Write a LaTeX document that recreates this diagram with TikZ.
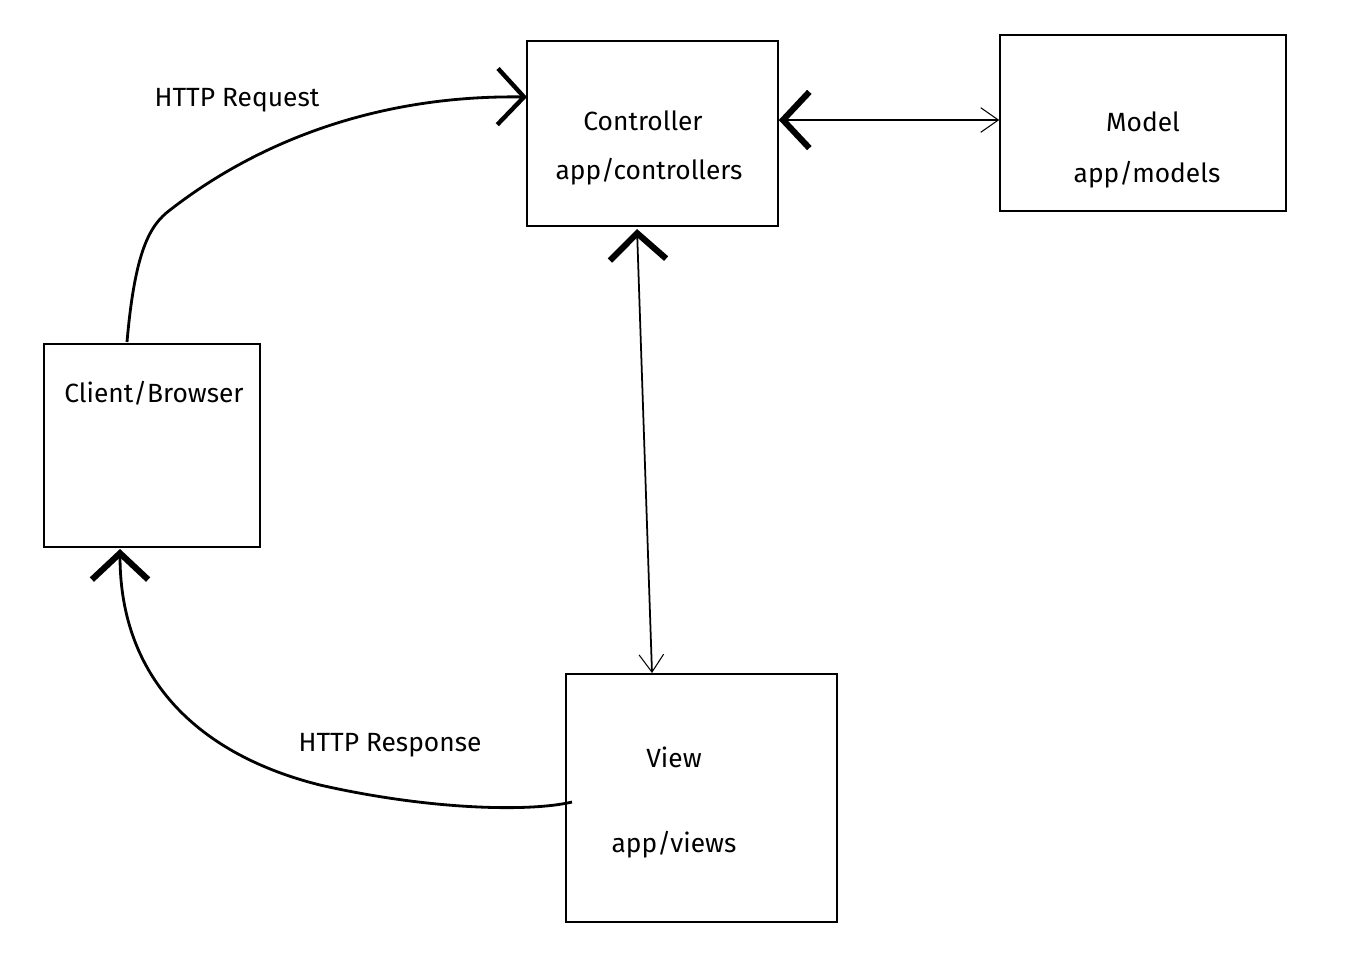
\documentclass[tikz,border=0pt]{standalone}
\usepackage{fontspec}
\setmainfont{Fira Sans}
\usetikzlibrary{arrows.meta}
\tikzset{
  bighead/.tip={Straight Barb[length=15pt,width=32pt,line width=3.5pt]},
  thinhead/.tip={Straight Barb[length=10pt,width=14pt,line width=0.6pt]},
  lbl/.style={font=\fontsize{15}{17}\selectfont},
  box/.style={draw,line width=0.9pt}}
\begin{document}
\begin{tikzpicture}[x=0.02cm,y=-0.02cm]
\useasboundingbox (0,0) rectangle (1358,961);
\node[box,minimum width=5.02cm,minimum height=3.7cm] (ctrl) at (652.5,133.5) {};
\node[box,minimum width=5.72cm,minimum height=3.52cm] (model) at (1143,123) {};
\node[box,minimum width=4.32cm,minimum height=4.06cm] (client) at (152,445.5) {};
\node[box,minimum width=5.42cm,minimum height=4.96cm] (view) at (701.5,798) {};
\node[lbl] (t1) at (643,121) {Controller};
\node[lbl] (t2) at (649,172) {app/controllers};
\node[lbl] (t3) at (1143,122) {Model};
\node[lbl] (t4) at (1147,175) {app/models};
\node[lbl] (t5) at (154,393) {Client/Browser};
\node[lbl] (t6) at (674,757) {View};
\node[lbl] (t7) at (674,845) {app/views};
\node[lbl] (req) at (237,100) {HTTP Request};
\node[lbl] (resp) at (390,745) {HTTP Response};
\coordinate (a1) at (127,342);
\coordinate (a2) at (527,97);
\draw[line width=1.6pt,-{Straight Barb[length=15pt,width=32pt,line width=2.5pt]}]
  (a1) .. controls (135,250) and (150,225) .. (170,210)
  .. controls (260,140) and (380,95) .. (a2);
\draw[line width=1pt,bighead-thinhead]
  (ctrl.east|-0,120) -- (model.west|-0,120);
\draw[line width=1pt,bighead-thinhead]
  (637,229) -- (652,673);
\coordinate (b1) at (572,802);
\coordinate (b2) at (120,549);
\draw[line width=1.6pt,-bighead]
  (b1) .. controls (530,812) and (430,810) .. (320,785)
  .. controls (200,755) and (120,680) .. (b2);
\end{tikzpicture}
\end{document}
